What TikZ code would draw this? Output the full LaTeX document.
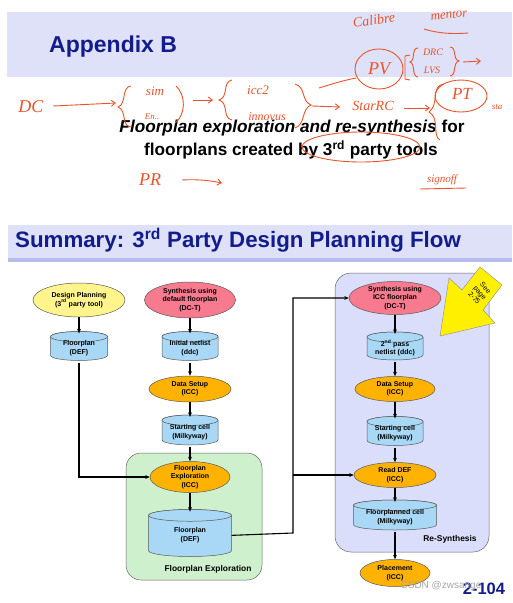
\documentclass[tikz,border=0pt]{standalone}
\usepackage{fontspec}
\setmainfont{Liberation Sans}
\newfontfamily\handfont{Liberation Serif}
\usetikzlibrary{shapes.geometric,arrows.meta}
\definecolor{bandblue}{RGB}{222,225,247}
\definecolor{bandline}{RGB}{182,188,236}
\definecolor{titleblue}{RGB}{18,28,140}
\definecolor{yellowfill}{RGB}{255,245,140}
\definecolor{pinkfill}{RGB}{248,122,142}
\definecolor{cylblue}{RGB}{168,216,245}
\definecolor{orangefill}{RGB}{255,178,0}
\definecolor{greenbox}{RGB}{206,240,204}
\definecolor{lavbox}{RGB}{218,222,250}
\definecolor{arrowyellow}{RGB}{255,240,0}
\definecolor{inkred}{RGB}{232,84,44}
\newcommand{\cylnode}[6]{%
  \pgfmathsetmacro\cx{#2}\pgfmathsetmacro\cy{-#3}%
  \pgfmathsetmacro\rx{#4/2}\pgfmathsetmacro\ry{4+#5*0.04}%
  \pgfmathsetmacro\yt{\cy+#5/2-\ry}\pgfmathsetmacro\yb{\cy-#5/2+\ry}%
  \filldraw[cylfill] (\cx-\rx,\yt) -- (\cx-\rx,\yb)
     arc[start angle=180,end angle=360,x radius=\rx,y radius=\ry]
     -- (\cx+\rx,\yt)
     arc[start angle=0,end angle=180,x radius=\rx,y radius=\ry] -- cycle;
  \draw[cylfill] (\cx,\yt) ellipse [x radius=\rx, y radius=\ry];
  \node[cyltext, minimum width=#4, minimum height=#5] (#1) at (\cx,\cy-\ry*0.4) {#6};
}
\tikzset{
  diag/.style={font=\fontsize{7}{8.4}\selectfont\bfseries},
  ell/.style={ellipse, draw=black!65, line width=0.5pt, inner sep=-1.5pt, align=center, diag},
  cylfill/.style={fill=cylblue, draw=black!65, line width=0.5pt},
  cyltext/.style={inner sep=0pt, align=center, diag},
  flow/.style={line width=1.1pt, -{Stealth[length=4.5pt,width=3.8pt]}},
  ink/.style={draw=inkred, line width=0.9pt},
  inkarrow/.style={ink, -{Straight Barb[length=4pt,width=6pt]}},
  inktext/.style={text=inkred, font=\handfont\itshape, inner sep=0pt},
  grouplabel/.style={font=\fontsize{8.4}{10}\selectfont\bfseries, inner sep=0pt},
}
\begin{document}
\begin{tikzpicture}[x=1pt,y=1pt]
\useasboundingbox (0,0) rectangle (512,-603);
\fill[white] (0,0) rectangle (512,-603);
% ---------- top slide ----------
\fill[bandblue] (7,-12) rectangle (512,-77);
\node[anchor=west, text=titleblue, font=\fontsize{23}{27}\selectfont\bfseries, inner sep=0pt] (appb) at (49,-47) {Appendix B};
\node[font=\fontsize{17.2}{20}\selectfont\bfseries, inner sep=0pt] (sub1) at (292,-128) {\itshape Floorplan exploration and re-synthesis\upshape\ for};
\node[font=\fontsize{17.2}{20}\selectfont\bfseries, inner sep=0pt] (sub2) at (291,-150) {floorplans created by 3\textsuperscript{rd} party tools};
% handwriting
\node[inktext, font=\handfont\itshape\fontsize{14}{16}\selectfont, rotate=8] (hcal) at (374,-20) {Calibre};
\node[inktext, font=\handfont\itshape\fontsize{13}{15}\selectfont, rotate=6] (hmen) at (449,-15) {mentor};
\draw[ink] (424,-29) .. controls (440,-34) and (455,-34) .. (468,-33);
\node[inktext, font=\handfont\itshape\fontsize{18}{20}\selectfont] (hdc) at (31,-107) {DC};
\draw[inkarrow] (53,-106) -- (116,-103);
\draw[ink] (131,-86) .. controls (121,-87) and (127,-104) .. (118,-107) .. controls (127,-110) and (121,-126) .. (131,-127);
\node[inktext, font=\handfont\itshape\fontsize{13}{15}\selectfont] (hsim) at (155,-91) {sim};
\node[inktext, font=\handfont\itshape\fontsize{9}{10}\selectfont] (hen) at (152,-117) {En..};
\draw[ink] (176,-86) .. controls (186,-95) and (186,-115) .. (175,-123);
\draw[inkarrow] (193,-100) -- (213,-100);
\draw[ink] (232,-80) .. controls (222,-82) and (229,-97) .. (219,-100) .. controls (229,-103) and (222,-118) .. (232,-120);
\node[inktext, font=\handfont\itshape\fontsize{13}{15}\selectfont] (hicc) at (258,-90) {icc2};
\node[inktext, font=\handfont\itshape\fontsize{12}{14}\selectfont] (hinn) at (267,-117) {innovus};
\draw[ink] (295,-84) .. controls (306,-87) and (301,-101) .. (311,-105) .. controls (301,-109) and (306,-124) .. (295,-128);
\draw[ink] (319,-88) .. controls (332,-84) and (345,-80) .. (356,-78);
\draw[ink] (379,-69) ellipse [x radius=24, y radius=20];
\node[inktext, font=\handfont\itshape\fontsize{18}{20}\selectfont] (hpv) at (379,-69) {PV};
\draw[ink] (410,-55) -- (405,-56) -- (405,-79) -- (410,-80);
\draw[ink] (418,-48) .. controls (411,-48) and (416,-60) .. (410,-62) .. controls (416,-64) and (411,-76) .. (418,-77);
\node[inktext, font=\handfont\itshape\fontsize{10}{11}\selectfont] (hdrc) at (433,-52) {DRC};
\node[inktext, font=\handfont\itshape\fontsize{10}{11}\selectfont] (hlvs) at (432,-70) {LVS};
\draw[ink] (450,-47) .. controls (457,-47) and (452,-59) .. (459,-61) .. controls (452,-63) and (457,-75) .. (450,-76);
\draw[inkarrow] (463,-62) -- (481,-61);
\draw[inkarrow] (312,-106) -- (340,-107);
\node[inktext, font=\handfont\itshape\fontsize{14}{16}\selectfont] (hstar) at (373,-106) {StarRC};
\draw[inkarrow] (404,-108) -- (430,-108);
\draw[ink] (444,-84) .. controls (430,-86) and (440,-104) .. (429,-112) .. controls (440,-118) and (432,-136) .. (440,-140);
\draw[ink] (461,-96) ellipse [x radius=26, y radius=16];
\node[inktext, font=\handfont\itshape\fontsize{17}{19}\selectfont] (hpt) at (462,-94) {PT};
\node[inktext, font=\handfont\itshape\fontsize{9}{10}\selectfont] (hsta) at (497,-107) {sta};
\draw[ink] (361,-147) ellipse [x radius=59, y radius=15];
\node[inktext, font=\handfont\itshape\fontsize{11}{12}\selectfont] (hsign) at (442,-180) {signoff};
\draw[ink] (420,-189) -- (466,-188);
\node[inktext, font=\handfont\itshape\fontsize{18}{20}\selectfont] (hpr) at (150,-180) {PR};
\draw[inkarrow] (182,-180) .. controls (200,-179) and (212,-181) .. (222,-183);
% ---------- bottom slide ----------
\fill[bandblue] (8,-225) rectangle (512,-258);
\fill[bandline] (8,-258) rectangle (512,-262);
\node[anchor=west, text=titleblue, font=\fontsize{22.3}{26}\selectfont\bfseries, inner sep=0pt] (sumt) at (15,-240) {Summary: 3\textsuperscript{rd} Party Design Planning Flow};
% group boxes
\filldraw[fill=greenbox, draw=black!60, line width=0.5pt, rounded corners=15] (126,-453) rectangle (262,-580);
\filldraw[fill=lavbox, draw=black!60, line width=0.5pt, rounded corners=16] (335,-273) rectangle (489,-552);
\node[grouplabel] (lblfe) at (208,-569) {Floorplan Exploration};
\node[grouplabel] (lblrs) at (450,-539) {Re-Synthesis};
% left column
\node[ell, fill=yellowfill, minimum width=92, minimum height=34] (dp) at (79,-300) {Design Planning\\(3\textsuperscript{rd} party tool)};
\cylnode{fp1}{79}{346}{57}{29}{Floorplan\\(DEF)}
% middle column
\node[ell, fill=pinkfill, minimum width=91, minimum height=36] (syn1) at (190,-300) {Synthesis using\\default floorplan\\(DC-T)};
\cylnode{net1}{190}{346}{56}{29}{Initial netlist\\(ddc)}
\node[ell, fill=orangefill, minimum width=82, minimum height=26] (ds1) at (190,-389) {Data Setup\\(ICC)};
\cylnode{sc1}{190}{430}{56}{30}{Starting cell\\(Milkyway)}
\node[ell, fill=orangefill, minimum width=80, minimum height=31] (fe) at (190,-477) {Floorplan\\Exploration\\(ICC)};
\cylnode{fp2}{190}{533}{83}{47}{Floorplan\\(DEF)}
% right column
\node[ell, fill=pinkfill, minimum width=92, minimum height=33] (syn2) at (395,-298) {Synthesis using\\ICC floorplan\\(DC-T)};
\cylnode{net2}{395}{346}{56}{28}{2\textsuperscript{nd} pass\\netlist (ddc)}
\node[ell, fill=orangefill, minimum width=80, minimum height=25] (ds2) at (395,-389) {Data Setup\\(ICC)};
\cylnode{sc2}{395}{431}{56}{29}{Starting cell\\(Milkyway)}
\node[ell, fill=orangefill, minimum width=82, minimum height=25] (rd) at (395,-475) {Read DEF\\(ICC)};
\cylnode{fc}{395}{515}{83}{30}{Floorplanned cell\\(Milkyway)}
\node[ell, fill=orangefill, minimum width=70, minimum height=27] (pl) at (395,-573) {Placement\\(ICC)};
% see page arrow
\filldraw[fill=arrowyellow, draw=black!45, line width=0.4pt] (440,-336) -- (449,-278) -- (462,-290) -- (480,-267) -- (502,-285) -- (483,-310) -- (495,-323) -- cycle;
\node[rotate=-48, align=center, font=\fontsize{7}{7.5}\selectfont, inner sep=0pt] (seep) at (480,-293) {See\\page\\2-75};
% connectors
\draw[flow] (dp) -- (fp1);
\draw[flow] (syn1) -- (net1);
\draw[flow] (net1) -- (ds1);
\draw[flow] (ds1) -- (sc1);
\draw[flow] (sc1) -- (fe);
\draw[flow] (fe) -- (fp2);
\draw[flow] (fp1.south) |- (fe.west);
\coordinate (bend) at (293,-533);
\draw[flow] (fp2.east) -- (bend) |- (syn2.west);
\draw[flow] (bend |- rd.west) -- (rd.west);
\draw[flow] (syn2) -- (net2);
\draw[flow] (net2) -- (ds2);
\draw[flow] (ds2) -- (sc2);
\draw[flow] (sc2) -- (rd);
\draw[flow] (rd) -- (fc);
\draw[flow] (fc) -- (pl);
% page number and watermark
\node[text=titleblue, font=\fontsize{16.5}{19}\selectfont\bfseries, inner sep=0pt] (pgno) at (484,-589) {2-104};
\node[text=black!35, font=\fontsize{10}{12}\selectfont, inner sep=0pt] (wm) at (441,-586) {CSDN @zwsange};
\end{tikzpicture}
\end{document}
